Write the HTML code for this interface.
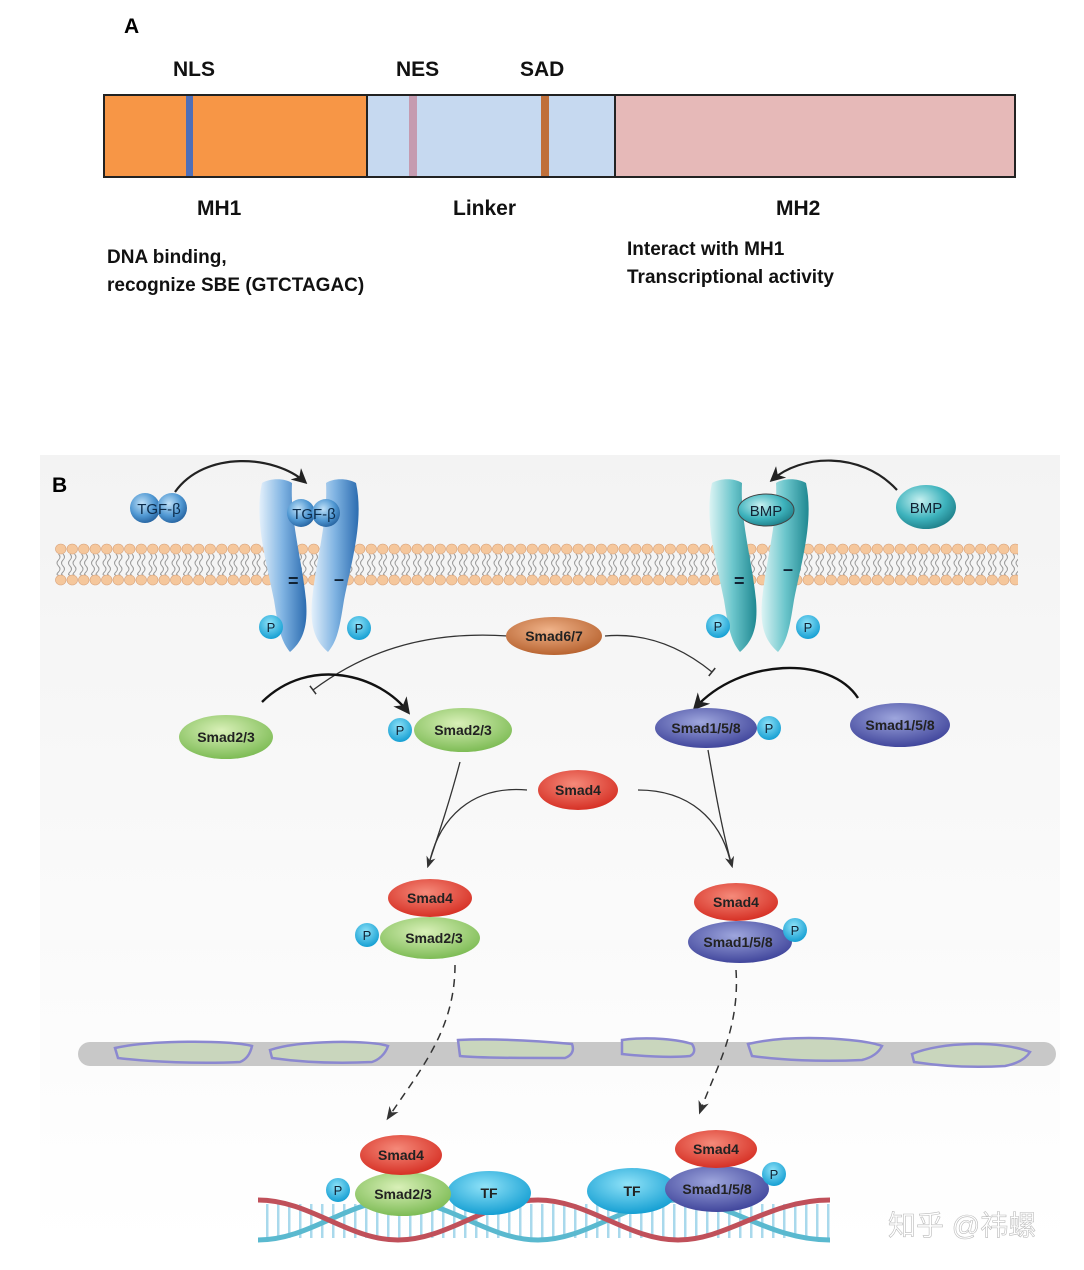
<!DOCTYPE html>
<html><head><meta charset="utf-8"><style>
body{margin:0;background:#fff;}
svg{display:block;font-family:"Liberation Sans",Arial,sans-serif;}
.b{font-weight:bold;}
</style></head><body>
<svg width="1084" height="1270" viewBox="0 0 1084 1270" xmlns="http://www.w3.org/2000/svg">
<defs>
<radialGradient id="gb" cx="40%" cy="35%" r="70%"><stop offset="0" stop-color="#bfe0f7"/><stop offset="0.6" stop-color="#4f97d2"/><stop offset="1" stop-color="#235f9c"/></radialGradient>
<radialGradient id="gt" cx="40%" cy="35%" r="70%"><stop offset="0" stop-color="#c6f0f0"/><stop offset="0.6" stop-color="#3eb3bd"/><stop offset="1" stop-color="#1d7c86"/></radialGradient>
<radialGradient id="gg" cx="45%" cy="35%" r="70%"><stop offset="0" stop-color="#d9f0b8"/><stop offset="1" stop-color="#77b84e"/></radialGradient>
<radialGradient id="gr" cx="45%" cy="35%" r="70%"><stop offset="0" stop-color="#f58a7a"/><stop offset="1" stop-color="#d42a1f"/></radialGradient>
<radialGradient id="gp" cx="45%" cy="35%" r="70%"><stop offset="0" stop-color="#9ea6dd"/><stop offset="1" stop-color="#3a3f97"/></radialGradient>
<radialGradient id="go" cx="45%" cy="35%" r="70%"><stop offset="0" stop-color="#f0b38a"/><stop offset="1" stop-color="#b45e2a"/></radialGradient>
<radialGradient id="gc" cx="45%" cy="35%" r="70%"><stop offset="0" stop-color="#8fe2f8"/><stop offset="1" stop-color="#0c9ad0"/></radialGradient>
<linearGradient id="rb" x1="0" x2="1"><stop offset="0" stop-color="#e3f0fb"/><stop offset="0.5" stop-color="#7fb3e2"/><stop offset="1" stop-color="#2c6cb0"/></linearGradient>
<linearGradient id="rt" x1="0" x2="1"><stop offset="0" stop-color="#dcf4f4"/><stop offset="0.5" stop-color="#6cc6cc"/><stop offset="1" stop-color="#1f8891"/></linearGradient>
<linearGradient id="bg" x1="0" y1="0" x2="0" y2="1"><stop offset="0" stop-color="#f3f3f3"/><stop offset="1" stop-color="#ffffff"/></linearGradient>
<marker id="ah" viewBox="0 0 10 10" refX="8" refY="5" markerWidth="7" markerHeight="7" orient="auto"><path d="M0,0 L10,5 L0,10 L3,5z" fill="#222"/></marker>
<marker id="ahs" viewBox="0 0 10 10" refX="8" refY="5" markerWidth="9" markerHeight="9" orient="auto"><path d="M0,1 L10,5 L0,9 L3,5z" fill="#333"/></marker>
<marker id="tb" viewBox="0 0 10 10" refX="5" refY="5" markerWidth="8" markerHeight="8" orient="auto"><path d="M5,0 L5,10" stroke="#333" stroke-width="1.5"/></marker>
<pattern id="lip" x="55" y="543" width="11.5" height="43" patternUnits="userSpaceOnUse">
<path d="M3.5,11 q3,3 0,6 q-3,3 0,6 q3,3 0,6 q-3,3 0,3 M8,11 q3,3 0,6 q-3,3 0,6 q3,3 0,6 q-3,3 0,3" stroke="#9a9a9a" stroke-width="1" fill="none"/>
<ellipse cx="5.75" cy="6" rx="5.3" ry="5" fill="#f5c79c" stroke="#d7a077" stroke-width="0.6"/>
<ellipse cx="5.75" cy="37" rx="5.3" ry="5" fill="#f5c79c" stroke="#d7a077" stroke-width="0.6"/>
</pattern>
<pattern id="rung" x="262" y="0" width="11" height="10" patternUnits="userSpaceOnUse">
<rect x="4" y="0" width="2.5" height="10" fill="#a9d9ec"/>
</pattern>
</defs>

<!-- Panel A -->
<text x="124" y="33" class="b" font-size="21">A</text>
<rect x="104" y="95" width="263" height="82" fill="#f79646" stroke="#222" stroke-width="2"/>
<rect x="367" y="95" width="248" height="82" fill="#c6d9f0" stroke="#222" stroke-width="2"/>
<rect x="615" y="95" width="400" height="82" fill="#e6b9b8" stroke="#222" stroke-width="2"/>
<rect x="186" y="96" width="7" height="80" fill="#4f6fb8"/>
<rect x="409" y="96" width="8" height="80" fill="#c59bb0"/>
<rect x="541" y="96" width="8" height="80" fill="#c0703a"/>
<g class="b" font-size="21" fill="#111">
<text x="173" y="76">NLS</text><text x="396" y="76">NES</text><text x="520" y="76">SAD</text>
<text x="197" y="215">MH1</text><text x="453" y="215">Linker</text><text x="776" y="215">MH2</text>
</g>
<g class="b" font-size="19" fill="#111">
<text x="107" y="263">DNA binding,</text><text x="107" y="291">recognize SBE (GTCTAGAC)</text>
<text x="627" y="255">Interact with  MH1</text><text x="627" y="283">Transcriptional  activity</text>
</g>

<!-- Panel B -->
<rect x="40" y="455" width="1020" height="790" fill="url(#bg)"/>
<text x="52" y="492" class="b" font-size="21">B</text>

<!-- membrane -->
<rect x="55" y="543" width="963" height="43" fill="url(#lip)"/>

<!-- TGF receptor -->
<g>
<path d="M262,483 C254,520 266,560 274,600 C278,625 280,640 290,652 C304,640 308,625 306,600 C302,560 290,520 292,483 C285,478 270,478 262,483 Z" fill="url(#rb)"/>
<path d="M356,483 C364,520 352,560 344,600 C340,625 338,640 328,652 C314,640 310,625 312,600 C316,560 328,520 326,483 C333,478 348,478 356,483 Z" fill="url(#rb)"/>
<text x="288" y="587" font-size="18" class="b" fill="#123">=</text>
<text x="334" y="585" font-size="18" class="b" fill="#123">–</text>
</g>
<circle cx="145" cy="508" r="15" fill="url(#gb)"/><circle cx="172" cy="508" r="15" fill="url(#gb)"/>
<text x="159" y="514" font-size="15" text-anchor="middle" fill="#0c2b4a">TGF-β</text>
<circle cx="301" cy="513" r="14" fill="url(#gb)"/><circle cx="326" cy="513" r="14" fill="url(#gb)"/>
<text x="314" y="519" font-size="15" text-anchor="middle" fill="#0c2b4a">TGF-β</text>
<path d="M175,492 C205,450 275,455 305,482" fill="none" stroke="#222" stroke-width="2.2" marker-end="url(#ah)"/>

<!-- BMP receptor -->
<g>
<path d="M712,483 C704,520 716,560 724,600 C728,625 730,640 740,652 C754,640 758,625 756,600 C752,560 740,520 742,483 C735,478 720,478 712,483 Z" fill="url(#rt)"/>
<path d="M806,483 C814,520 802,560 794,600 C790,625 788,640 778,652 C764,640 760,625 762,600 C766,560 778,520 776,483 C783,478 798,478 806,483 Z" fill="url(#rt)"/>
<text x="734" y="587" font-size="18" class="b" fill="#123">=</text>
<text x="783" y="575" font-size="18" class="b" fill="#123">–</text>
</g>
<ellipse cx="766" cy="510" rx="28" ry="16" fill="url(#gt)" stroke="#444" stroke-width="1"/>
<text x="766" y="516" font-size="15" text-anchor="middle" fill="#123">BMP</text>
<ellipse cx="926" cy="507" rx="30" ry="22" fill="url(#gt)"/>
<text x="926" y="513" font-size="15" text-anchor="middle" fill="#123">BMP</text>
<path d="M897,490 C860,450 800,455 772,480" fill="none" stroke="#222" stroke-width="2.2" marker-end="url(#ah)"/>

<g font-size="13" text-anchor="middle" fill="#123">
<circle cx="271" cy="627" r="12" fill="url(#gc)"/><text x="271" y="632">P</text>
<circle cx="359" cy="628" r="12" fill="url(#gc)"/><text x="359" y="633">P</text>
<circle cx="718" cy="626" r="12" fill="url(#gc)"/><text x="718" y="631">P</text>
<circle cx="808" cy="627" r="12" fill="url(#gc)"/><text x="808" y="632">P</text>
</g>

<!-- Smad6/7 inhibition -->
<path d="M508,636 C420,630 360,655 313,690" fill="none" stroke="#333" stroke-width="1.3" marker-end="url(#tb)"/>
<path d="M605,636 C650,632 685,650 712,672" fill="none" stroke="#333" stroke-width="1.3" marker-end="url(#tb)"/>
<ellipse cx="554" cy="636" rx="48" ry="19" fill="url(#go)"/>
<text x="554" y="641" font-size="14" class="b" text-anchor="middle" fill="#222">Smad6/7</text>

<path d="M262,702 C310,655 380,675 408,712" fill="none" stroke="#111" stroke-width="2.4" marker-end="url(#ah)"/>
<path d="M858,698 C830,655 740,658 695,708" fill="none" stroke="#111" stroke-width="2.4" marker-end="url(#ah)"/>

<g font-size="14" class="b" text-anchor="middle" fill="#222">
<ellipse cx="226" cy="737" rx="47" ry="22" fill="url(#gg)"/><text x="226" y="742">Smad2/3</text>
<ellipse cx="463" cy="730" rx="49" ry="22" fill="url(#gg)"/><text x="463" y="735">Smad2/3</text>
<ellipse cx="706" cy="728" rx="51" ry="20" fill="url(#gp)"/><text x="706" y="733">Smad1/5/8</text>
<ellipse cx="900" cy="725" rx="50" ry="22" fill="url(#gp)"/><text x="900" y="730">Smad1/5/8</text>
<ellipse cx="578" cy="790" rx="40" ry="20" fill="url(#gr)"/><text x="578" y="795">Smad4</text>
</g>
<g font-size="13" text-anchor="middle" fill="#123">
<circle cx="400" cy="730" r="12" fill="url(#gc)"/><text x="400" y="735">P</text>
<circle cx="769" cy="728" r="12" fill="url(#gc)"/><text x="769" y="733">P</text>
</g>

<path d="M460,762 C450,800 440,830 428,866" fill="none" stroke="#333" stroke-width="1.3" marker-end="url(#ahs)"/>
<path d="M527,790 C470,785 440,820 430,860" fill="none" stroke="#333" stroke-width="1.3"/>
<path d="M708,750 C715,790 722,830 732,866" fill="none" stroke="#333" stroke-width="1.3" marker-end="url(#ahs)"/>
<path d="M638,790 C690,790 720,820 730,860" fill="none" stroke="#333" stroke-width="1.3"/>

<g font-size="14" class="b" text-anchor="middle" fill="#222">
<ellipse cx="430" cy="938" rx="50" ry="21" fill="url(#gg)"/><text x="434" y="943">Smad2/3</text>
<ellipse cx="430" cy="898" rx="42" ry="19" fill="url(#gr)"/><text x="430" y="903">Smad4</text>
<ellipse cx="740" cy="942" rx="52" ry="21" fill="url(#gp)"/><text x="738" y="947">Smad1/5/8</text>
<ellipse cx="736" cy="902" rx="42" ry="19" fill="url(#gr)"/><text x="736" y="907">Smad4</text>
</g>
<g font-size="13" text-anchor="middle" fill="#123">
<circle cx="367" cy="935" r="12" fill="url(#gc)"/><text x="367" y="940">P</text>
<circle cx="795" cy="930" r="12" fill="url(#gc)"/><text x="795" y="935">P</text>
</g>

<!-- nuclear membrane -->
<rect x="78" y="1042" width="978" height="24" rx="12" fill="#c8c8c8"/>
<g fill="#c9d6bd" stroke="#8b88d0" stroke-width="2.5">
<path d="M115,1048 C150,1040 230,1040 252,1046 C250,1055 245,1060 240,1062 C200,1064 150,1062 118,1058 Z"/>
<path d="M270,1050 C300,1040 370,1040 388,1046 C385,1055 378,1060 372,1062 C330,1064 300,1062 272,1058 Z"/>
<path d="M458,1040 C500,1038 550,1042 572,1044 C575,1052 570,1056 565,1058 C520,1058 480,1058 460,1056 Z"/>
<path d="M622,1040 C650,1036 680,1040 692,1044 C696,1050 694,1054 690,1056 C670,1058 640,1056 622,1054 Z"/>
<path d="M748,1044 C790,1034 860,1038 882,1046 C878,1054 870,1058 862,1060 C820,1062 780,1060 752,1056 Z"/>
<path d="M912,1054 C940,1042 1000,1040 1030,1052 C1025,1060 1015,1064 1005,1066 C970,1068 940,1066 914,1062 Z"/>
</g>

<path d="M455,965 C455,1030 420,1070 388,1118" fill="none" stroke="#333" stroke-width="1.5" stroke-dasharray="8 6" marker-end="url(#ahs)"/>
<path d="M736,970 C740,1030 715,1070 700,1112" fill="none" stroke="#333" stroke-width="1.5" stroke-dasharray="8 6" marker-end="url(#ahs)"/>

<!-- DNA -->
<rect x="262" y="1204" width="568" height="34" fill="url(#rung)"/>
<path d="M258,1240 C310,1240 348,1200 398,1200 C448,1200 488,1240 538,1240 C588,1240 628,1200 678,1200 C728,1200 768,1240 830,1240" stroke="#5ab9cf" stroke-width="5" fill="none"/>
<path d="M258,1200 C310,1200 348,1240 398,1240 C448,1240 488,1200 538,1200 C588,1200 628,1240 678,1240 C728,1240 768,1200 830,1200" stroke="#c0505a" stroke-width="5" fill="none"/>

<g font-size="14" class="b" text-anchor="middle" fill="#222">
<ellipse cx="489" cy="1193" rx="42" ry="22" fill="url(#gc)"/><text x="489" y="1198">TF</text>
<ellipse cx="403" cy="1194" rx="48" ry="22" fill="url(#gg)"/><text x="403" y="1199">Smad2/3</text>
<ellipse cx="401" cy="1155" rx="41" ry="20" fill="url(#gr)"/><text x="401" y="1160">Smad4</text>
<ellipse cx="632" cy="1191" rx="45" ry="23" fill="url(#gc)"/><text x="632" y="1196">TF</text>
<ellipse cx="717" cy="1189" rx="52" ry="23" fill="url(#gp)"/><text x="717" y="1194">Smad1/5/8</text>
<ellipse cx="716" cy="1149" rx="41" ry="19" fill="url(#gr)"/><text x="716" y="1154">Smad4</text>
</g>
<g font-size="13" text-anchor="middle" fill="#123">
<circle cx="338" cy="1190" r="12" fill="url(#gc)"/><text x="338" y="1195">P</text>
<circle cx="774" cy="1174" r="12" fill="url(#gc)"/><text x="774" y="1179">P</text>
</g>

<text x="888" y="1235" font-size="28" fill="#ffffff" stroke="#bbb" stroke-width="0.6" font-family="'Liberation Sans','Noto Sans CJK SC',sans-serif">知乎 @祎螺</text>
</svg>
</body></html>
